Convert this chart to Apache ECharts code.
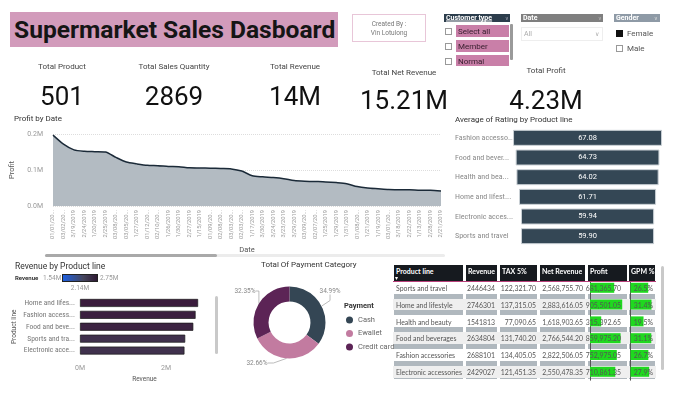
<!DOCTYPE html>
<html><head><meta charset="utf-8">
<script src="https://cdn.jsdelivr.net/npm/echarts/dist/echarts.min.js"></script>
<style>
body{margin:0;background:#fff}
#root{position:relative;width:680px;height:393px;overflow:hidden;background:#fff;font-family:Roboto,"Noto Sans",sans-serif}
.t{position:absolute;white-space:nowrap;line-height:1}
.b{position:absolute}
#chart{position:absolute;left:0;top:0;width:680px;height:393px;z-index:2}
#bg{position:absolute;left:0;top:0;width:680px;height:393px;z-index:1}
#fg{position:absolute;left:0;top:0;width:680px;height:393px;z-index:3}
</style>
</head><body>
<div id="root"><div id="bg"></div><div id="chart"></div><div id="fg"></div></div>
<script>
// ---------- data ----------
const dateLabels = ['01/01/20...','03/02/20...','3/19/2019','2/24/2019','1/20/2019','2/25/2019','03/08/20...','03/05/20...','1/27/2019','01/12/20...','02/10/20...','1/26/2019','1/30/2019','2/27/2019','1/15/2019','01/09/20...','02/08/20...','03/03/20...','02/03/20...','1/17/2019','3/30/2019','3/24/2019','3/23/2019','3/29/2019','03/09/20...','02/07/20...','1/25/2019','1/29/2019','1/31/2019','01/08/20...','1/21/2019','1/19/2019','03/01/20...','3/18/2019','2/22/2019','1/13/2019','2/28/2019','2/21/2019'];
const profitByDate = [197000,172000,156000,152000,151000,150000,135000,122000,117000,113000,112000,110000,109000,106000,105500,105000,104000,103000,97000,84000,81000,79000,76000,71000,69000,68000,67000,65000,62000,54000,50000,48000,46000,45000,45000,44000,44000,42000];
const ratingLabels = ['Fashion accesso...','Food and bever...','Health and bea...','Home and lifest...','Electronic acces...','Sports and travel'];
const avgRating = [67.08,64.73,64.02,61.71,59.94,59.90];
const revenueLabels = ['Home and lifes...','Fashion access...','Food and beve...','Sports and tra...','Electronic acce...','Health and bea...'];
const revenueByLine = [2746301,2688101,2634804,2446434,2429027,1541813];
const revenueLegend = ['1.54M','2.75M','2.14M'];
const paymentTypes = ['Cash','Ewallet','Credit card'];
const paymentShare = [34.99,32.66,32.35];
const tableHeaders = ['Product line','Revenue','TAX 5%','Net Revenue','Profit','GPM %'];
const tableProducts = ['Sports and travel','Home and lifestyle','Health and beauty','Food and beverages','Fashion accessories','Electronic accessories'];
const tableRevenue = [2446434,2746301,1541813,2634804,2688101,2429027];
const tableTax = [122321.70,137315.05,77090.65,131740.20,134405.05,121451.35];
const tableNetRevenue = [2568755.70,2883616.05,1618903.65,2766544.20,2822506.05,2550478.35];
const tableProfit = [681365.70,905501.05,315392.65,859975.20,752975.05,710861.35];
const tableGpm = [26.5,31.4,19.5,31.1,26.7,27.9];
const kpiLabels = ['Total Product','Total Sales Quantity','Total Revenue','Total Net Revenue','Total Profit'];
const kpiValues = ['501','2869','14M','15.21M','4.23M'];
const customerTypes = ['Select all','Member','Normal'];
const genders = ['Female','Male'];

// ---------- helpers ----------
const bg = document.getElementById('bg'), fg = document.getElementById('fg');
function box(parent, x, y, w, h, css){const d=document.createElement('div');d.className='b';d.style.cssText=`left:${x}px;top:${y}px;width:${w}px;height:${h}px;`+(css||'');parent.appendChild(d);return d;}
function txt(parent, s, x, y, size, css, anchor){const d=document.createElement('div');d.className='t';d.textContent=s;
  const tr = anchor==='c'?'translate(-50%,-50%)':anchor==='r'?'translate(-100%,-50%)':'translate(0,-50%)';
  d.style.cssText=`left:${x}px;top:${y}px;font-size:${size}px;transform:${tr};`+(css||'');parent.appendChild(d);return d;}
const NARROW = '"Liberation Sans Narrow","Roboto Condensed",Roboto';

// ---------- header ----------
box(fg,10,12,328,35,'background:#d29bbb;');
txt(fg,'Supermarket Sales Dasboard',14,30,24.6,'font-weight:bold;color:#151515;');
box(fg,352,14,74,28,'border:1px solid #e8c6d8;box-sizing:border-box;');
txt(fg,'Created By :',389,24,6.5,'color:#777;','c');
txt(fg,'Vin Lotulong',389,33,6.5,'color:#777;','c');
// customer type slicer
box(fg,444,14,66,8,'background:#2c3d4c;');
txt(fg,'Customer type',446,18,7,'color:#fff;font-weight:bold;text-decoration:underline;');
txt(fg,'\u2228',507,18,5,'color:#aab;','c');
customerTypes.forEach((c,i)=>{
  box(fg,445,28+i*15,7,7,'border:1px solid #999;box-sizing:border-box;background:#fff;');
  box(fg,456,25+i*15,53,i==2?11:12,'background:#c97fa8;');
  txt(fg,c,458,31.5+i*15,8,'color:#3a2030;');
});
box(fg,510,24,3,36,'background:#9a9a9a;border-radius:1px;');
// date slicer
box(fg,521,14,82,8,'background:#7f7f7f;');
txt(fg,'Date',523,18,7,'color:#fff;font-weight:bold;');
txt(fg,'\u2228',600,18,5,'color:#bbb;','c');
box(fg,521,27,82,14,'border:1px solid #eee;box-sizing:border-box;');
txt(fg,'All',524,34,7,'color:#aaa;');
txt(fg,'\u2228',597,34,6,'color:#aaa;','c');
// gender slicer
box(fg,614,14,46,8,'background:#8e9aa6;');
txt(fg,'Gender',616,18,7,'color:#fff;font-weight:bold;');
txt(fg,'\u2228',656,18,5,'color:#ddd;','c');
genders.forEach((g,i)=>{
  box(fg,616,30+i*15,7,7,i==0?'background:#111;':'border:1px solid #999;box-sizing:border-box;');
  txt(fg,g,627,33.5+i*15,8,'color:#555;');
});

// ---------- KPIs ----------
const kpiX=[62,174,295,404,546], kpiLY=[67,67,67,73,71], kpiVY=[96,96,96,100,100];
kpiLabels.forEach((l,i)=>{
  txt(fg,l,kpiX[i],kpiLY[i],8,'color:#444;','c');
  txt(fg,kpiValues[i],kpiX[i],kpiVY[i],26,'color:#111;','c');
});

// ---------- chart titles / misc text ----------
txt(fg,'Profit by Date',14,119,8,'color:#333;');
txt(fg,'Average of Rating by Product line',455,120,8,'color:#333;');
txt(fg,'Revenue by Product line',15,266,8.5,'color:#333;');
txt(fg,'Total Of Payment Category',261,265,8,'color:#333;');
txt(fg,'Payment',344,306,7.5,'color:#333;font-weight:bold;');
// line chart scrollbar
box(fg,45,253.5,400,3.5,'background:#ececec;border-radius:2px;');
box(fg,45,253.5,172,3.5,'background:#a9a9a9;border-radius:2px;');
// revenue legend
txt(fg,'Revenue',15,277.5,6,'color:#333;font-weight:bold;');
txt(fg,revenueLegend[0],43,277.5,6.5,'color:#999;');
txt(fg,revenueLegend[1],100,277.5,6.5,'color:#999;');
txt(fg,revenueLegend[2],80,288,6.5,'color:#999;','c');
box(fg,62,274,36,8,'background:linear-gradient(90deg,#1d5fe0,#45455c 60%,#2f1a33);border:1px solid #222;box-sizing:border-box;');
box(fg,215,296,3,58,'background:#c9c9c9;border-radius:2px;');

// ---------- table ----------
const colBox=[[394,463],[466,497],[500,537],[540,585],[588,627],[629,655]];
const tbl = box(bg,390,262,270,117,'overflow:hidden;');
const tblF = box(fg,390,262,270,117,'overflow:hidden;');
const ox=390, oy=262;
const TF='font-family:Lato,"Open Sans";';
tableHeaders.forEach((h,j)=>{
  box(tblF,colBox[j][0]-ox,265-oy,colBox[j][1]-colBox[j][0],16,'background:#161a1f;');
  txt(tblF,h,colBox[j][0]-ox+2,271-oy,7,'color:#fff;font-weight:bold;'+TF);
});
txt(tblF,'\u25BE',395-ox,278-oy,6,'color:#fff;');
box(tblF,393-ox,281-oy,263,1,'background:#b8407a;');
const pitch=16.8;
const fmt2=v=>v.toLocaleString('en-US',{minimumFractionDigits:2,maximumFractionDigits:2});
tableProducts.forEach((p,i)=>{
  const top=282+i*pitch;
  box(tbl,393-ox,top-oy,263,11.5,'background:'+(i%2?'#efefef':'#fff')+';');
  colBox.forEach(c=>box(tbl,c[0]-ox,top+11.5-oy,c[1]-c[0],5,'background:#b0b8be;'));
  const cy=top+6-oy, st='color:#555;'+TF, fs=6.9;
  txt(tblF,p,396-ox,cy,fs,st);
  txt(tblF,String(tableRevenue[i]),495-ox,cy,fs,st,'r');
  txt(tblF,fmt2(tableTax[i]),536-ox,cy,fs,st,'r');
  txt(tblF,fmt2(tableNetRevenue[i]),583-ox,cy,fs,st,'r');
  txt(tblF,fmt2(tableProfit[i]),621-ox,cy,fs,st,'r');
  txt(tblF,tableGpm[i].toFixed(1)+'%',653-ox,cy,fs,st,'r');
});
box(fg,661,266,3,104,'background:#c9c9c9;border-radius:2px;');

// ---------- charts ----------
const chart = echarts.init(document.getElementById('chart'), null, {renderer:'canvas'});
const RMAX = 70;
const hidden = {show:false};
// where Power BI puts each donut label (relative to the donut centre)
const pieLabelOffset = [[30,-31.5,'left'],[-22,40.5,'right'],[-34,-31.5,'right']];
const pieC = [289.5,322.5];
const option = {
  animation:false,
  backgroundColor:'transparent',
  textStyle:{fontFamily:'Roboto'},
  color:['#344654','#c27ba0','#5c2456'],
  grid:[
    {left:53,right:239,top:134,bottom:187},
    {left:509.8,width:155.5,top:128,height:118},
    {left:80,width:129,top:297,height:59.5},
    {left:590,width:37,top:279.4,height:100.8},
    {left:630.5,width:23.4,top:279.4,height:100.8}
  ],
  xAxis:[
    {gridIndex:0,type:'category',data:dateLabels,boundaryGap:false,axisLine:hidden,axisTick:hidden,
     axisLabel:{rotate:90,interval:0,fontSize:5.8,color:'#9a9a9a',margin:4},
     name:'Date',nameLocation:'middle',nameGap:40,nameTextStyle:{fontSize:7.5,color:'#555'}},
    {gridIndex:1,type:'value',min:0,max:RMAX,show:false},
    {gridIndex:2,type:'value',min:0,max:3000000,interval:2000000,splitLine:hidden,axisLine:hidden,axisTick:hidden,
     axisLabel:{formatter:v=>(v/1e6)+'M',fontSize:7,color:'#999',showMaxLabel:false,margin:8},
     name:'Revenue',nameLocation:'middle',nameGap:19,nameTextStyle:{fontSize:6.5,color:'#555'}},
    {gridIndex:3,type:'value',min:0,max:1040000,show:false},
    {gridIndex:4,type:'value',min:0,max:35,show:false}
  ],
  yAxis:[
    {gridIndex:0,type:'value',min:0,max:200000,interval:100000,axisLine:hidden,axisTick:hidden,
     axisLabel:{formatter:v=>(v/1e6).toFixed(1)+'M',fontSize:7,color:'#999',margin:10},
     splitLine:{lineStyle:{type:'dotted',color:'#ddd'}},
     name:'Profit',nameLocation:'middle',nameGap:31,nameTextStyle:{fontSize:7.5,color:'#555'}},
    {gridIndex:1,type:'category',inverse:true,data:ratingLabels,axisLine:hidden,axisTick:hidden,
     axisLabel:{align:'left',margin:54.8,fontSize:8,color:'#8a8a8a',fontFamily:NARROW}},
    {gridIndex:2,type:'category',inverse:true,data:revenueLabels,axisLine:hidden,axisTick:hidden,
     axisLabel:{fontSize:7.5,color:'#777',margin:5,fontFamily:NARROW},
     name:'Product line',nameLocation:'middle',nameGap:62,nameTextStyle:{fontSize:6.5,color:'#555'}},
    {gridIndex:3,type:'category',inverse:true,data:tableProducts,axisLine:{lineStyle:{color:'#555',width:1}},axisTick:hidden,axisLabel:hidden},
    {gridIndex:4,type:'category',inverse:true,data:tableProducts,axisLine:{lineStyle:{color:'#555',width:1}},axisTick:hidden,axisLabel:hidden}
  ],
  dataZoom:[{type:'inside',yAxisIndex:2,startValue:0,endValue:4,zoomLock:true}],
  visualMap:[{type:'continuous',show:false,seriesIndex:3,dimension:0,min:Math.min(...revenueByLine),max:Math.max(...revenueByLine),
    inRange:{color:['#1d5fe0','#45455c','#3a1b3c']}}],
  legend:{data:paymentTypes,orient:'vertical',left:341,top:311,itemWidth:7,itemHeight:7,icon:'circle',itemGap:5.5,
    textStyle:{fontSize:7.5,color:'#666'}},
  series:[
    {type:'line',xAxisIndex:0,yAxisIndex:0,data:profitByDate,smooth:0.25,symbol:'none',
     lineStyle:{color:'#1b2a38',width:1.5},areaStyle:{color:'#b3bbc2',opacity:1}},
    {type:'bar',xAxisIndex:1,yAxisIndex:1,stack:'r',data:avgRating.map(v=>(RMAX-v)/2),barWidth:16,silent:true,
     itemStyle:{color:'rgba(0,0,0,0)'}},
    {type:'bar',xAxisIndex:1,yAxisIndex:1,stack:'r',data:avgRating,barWidth:16,
     itemStyle:{color:'#344755',borderColor:'#c9d0d5',borderWidth:1},
     label:{show:true,position:'inside',color:'#fff',fontSize:7.5,formatter:p=>p.value.toFixed(2)}},
    {type:'bar',xAxisIndex:2,yAxisIndex:2,data:revenueByLine.map((v,i)=>[v,revenueLabels[i]]),barWidth:8,
     itemStyle:{borderColor:'#1a1a1a',borderWidth:0.7}},
    {type:'pie',center:pieC,radius:[21,36],startAngle:90,avoidLabelOverlap:false,
     data:paymentTypes.map((n,i)=>({name:n,value:paymentShare[i]})),
     label:{formatter:'{d}%',fontSize:6.5,color:'#888'},
     labelLine:{length:4,length2:6,lineStyle:{color:'#aaa',width:0.8}},
     labelLayout:p=>{const o=pieLabelOffset[p.dataIndex];return {x:pieC[0]+o[0],y:pieC[1]+o[1],align:o[2],verticalAlign:'middle'};}},
    {type:'bar',xAxisIndex:3,yAxisIndex:3,data:tableProfit,barWidth:10,itemStyle:{color:'#1fd81f'}},
    {type:'bar',xAxisIndex:4,yAxisIndex:4,data:tableGpm,barWidth:10,itemStyle:{color:'#1fd81f'}}
  ]
};
chart.setOption(option);
</script>
</body></html>
